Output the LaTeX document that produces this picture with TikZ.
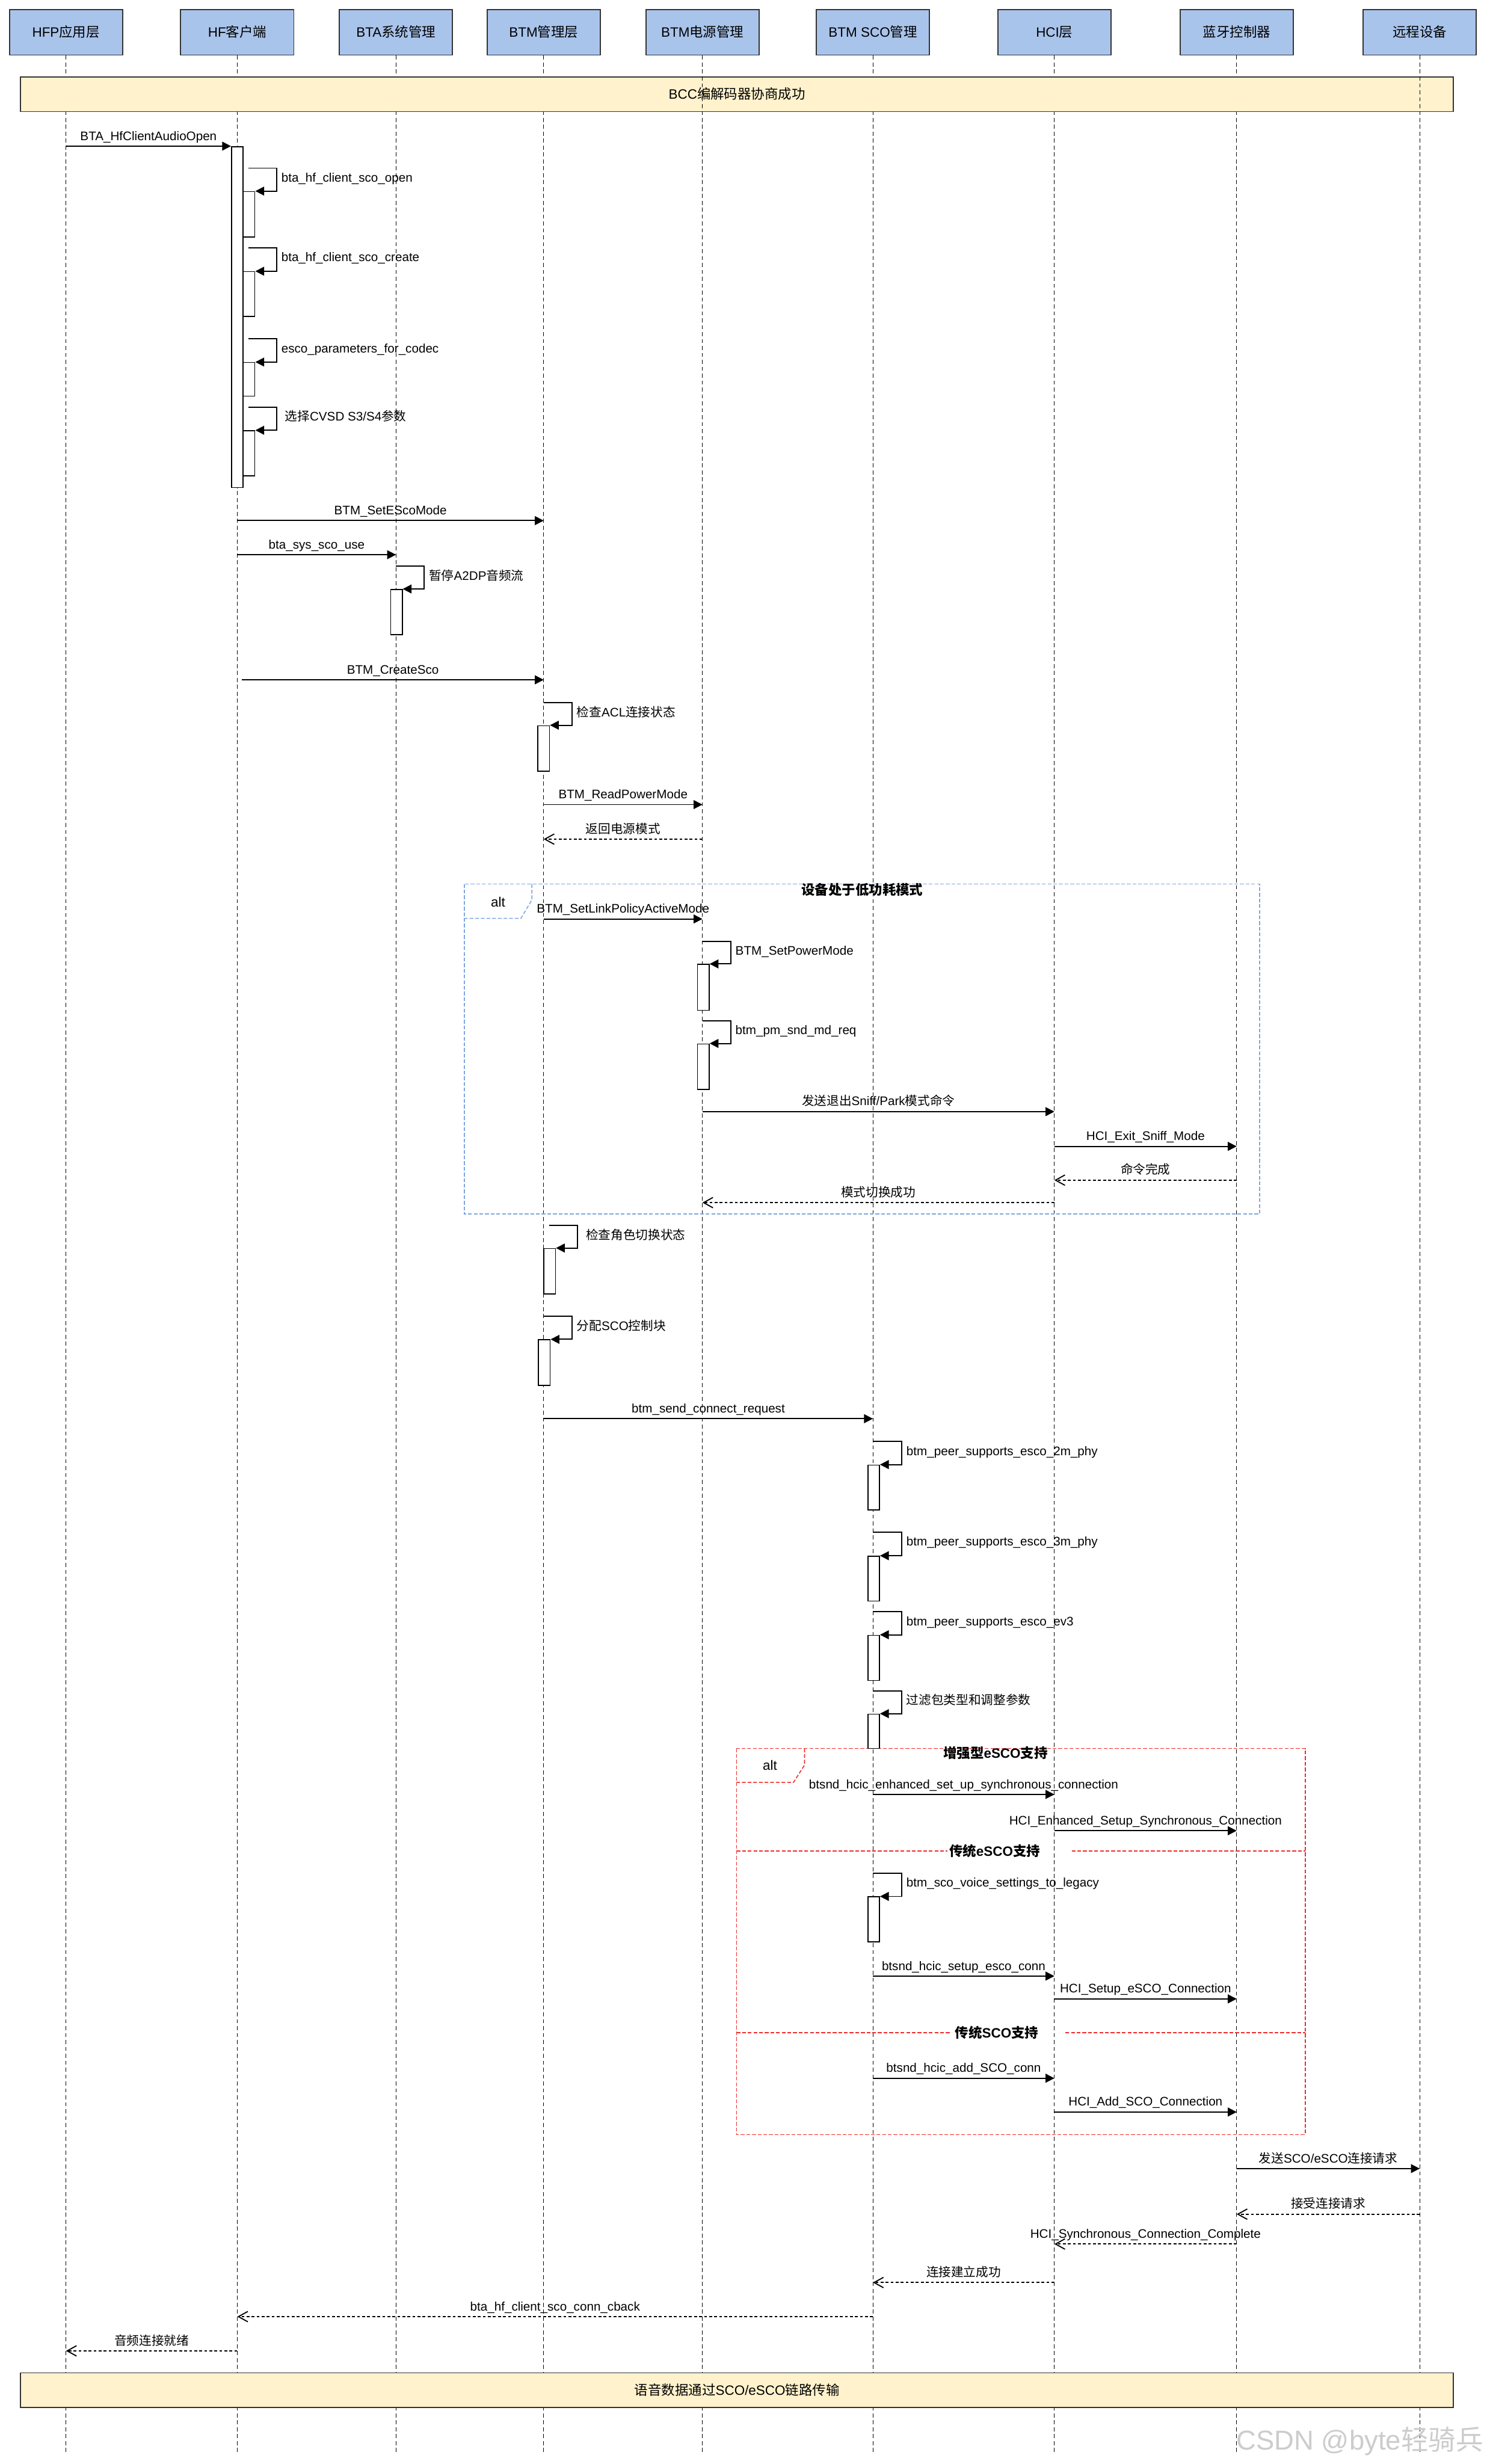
\documentclass[tikz,border=0pt]{standalone}
\usepackage{fontspec}
\setmainfont{Liberation Sans}
\newfontfamily\zhfont{Noto Sans CJK SC}
\newcommand\zh[1]{{\zhfont #1}}
\usepackage{tikz}
\usetikzlibrary{arrows.meta,calc}
\definecolor{hdrblue}{HTML}{A9C4EB}
\definecolor{notebg}{HTML}{FFF2CC}
\definecolor{altblue}{HTML}{7EA6E0}
\definecolor{altred}{HTML}{F02A2A}
\tikzset{
  hdr/.style={draw=black!80, fill=hdrblue, line width=0.7pt, minimum width=72pt,
              minimum height=29pt, inner sep=0pt, text height=7pt, text depth=1pt,
              font=\fontsize{8.6}{10}\selectfont},
  note/.style={draw=black!80, fill=notebg, line width=0.7pt, minimum width=912pt,
               minimum height=22pt, inner sep=0pt, text height=7pt, text depth=1pt,
               font=\fontsize{8.6}{10}\selectfont},
  lifeline/.style={line width=0.45pt, dash pattern=on 2.6pt off 1.8pt},
  actbox/.style={draw, fill=white, line width=0.6pt, minimum width=7.4pt,
                 inner sep=0pt, anchor=north west},
  call/.style={line width=0.75pt, -{Triangle[length=5.6pt,width=5.6pt]}},
  ret/.style={line width=0.7pt, dash pattern=on 1.8pt off 1.4pt,
              -{Straight Barb[length=6pt,width=6.6pt]}},
  msglbl/.style={anchor=base, yshift=3.8pt, inner sep=0pt,
                 font=\fontsize{7.9}{9}\selectfont},
  selflbl/.style={anchor=base west, xshift=2.7pt, yshift=-8.8pt, inner sep=0pt,
                  font=\fontsize{7.9}{9}\selectfont},
  altframe/.style={line width=0.6pt, dash pattern=on 2.4pt off 1.2pt},
  frametitle/.style={anchor=base, inner sep=0pt, font=\bfseries\fontsize{8.6}{10}\selectfont},
  alttag/.style={anchor=base, inner sep=0pt, font=\fontsize{8.6}{10}\selectfont},
}

\begin{document}
\begin{tikzpicture}[x=1pt, y=-1pt]
  \useasboundingbox (0,0) rectangle (946,1568);

  % participants and lifelines
  \node[hdr] (hfp) at (42,20.5)    {HFP\zh{应用层}};
  \node[hdr] (hf)  at (151,20.5)   {HF\zh{客户端}};
  \node[hdr] (bta) at (252,20.5)   {BTA\zh{系统管理}};
  \node[hdr] (btm) at (346,20.5)   {BTM\zh{管理层}};
  \node[hdr] (pwr) at (447,20.5)   {BTM\zh{电源管理}};
  \node[hdr] (sco) at (555.5,20.5) {BTM SCO\zh{管理}};
  \node[hdr] (hci) at (671,20.5)   {HCI\zh{层}};
  \node[hdr] (ctl) at (787,20.5)   {\zh{蓝牙控制器}};
  \node[hdr] (rem) at (903.5,20.5) {\zh{远程设备}};
  \foreach \p in {hfp,hf,bta,btm,pwr,sco,hci,ctl,rem}
    \draw[lifeline] (\p.south) -- (\p |- 0,1562);

  % notes across all lifelines
  \node[note] (bcc)   at (469,60)   {BCC\zh{编解码器协商成功}};
  \node[note] (voice) at (469,1521) {\zh{语音数据通过}SCO/eSCO\zh{链路传输}};
  \draw[lifeline] (pwr |- bcc.north) -- (pwr |- bcc.south);
  \draw[lifeline] (rem |- bcc.north) -- (rem |- bcc.south);

  % alt: low power mode
  \draw[altframe, altblue] (295.5,562.6) rectangle (801.5,772.6);
  \draw[altframe, altblue] (338.5,562.6) -- (338.5,572.6) -- (331.5,584.4) -- (295.5,584.4);
  \node[alttag] (lpalt) at (317,576.9) {alt};
  \node[frametitle] (lptitle) at (548.7,569.3) {\zh{设备处于低功耗模式}};

  % alt: eSCO / SCO variants
  \draw[altframe, altred] (468.7,1112.7) rectangle (830.6,1358.4);
  \draw[altframe, altred] (512,1112.7) -- (512,1123.2) -- (505,1134.2) -- (468.7,1134.2);
  \draw[altframe, altred] (468.7,1177.8) -- (603,1177.8) (682,1177.8) -- (830.6,1177.8);
  \draw[altframe, altred] (468.7,1293.5) -- (605.5,1293.5) (678,1293.5) -- (830.6,1293.5);
  \node[alttag] (scoalt) at (490,1126.4) {alt};
  \node[frametitle] (enhtitle) at (633.5,1118.7) {\zh{增强型}eSCO\zh{支持}};
  \node[frametitle] (esctitle) at (633,1181.3)   {\zh{传统}eSCO\zh{支持}};
  \node[frametitle] (scotitle) at (634.3,1296.8) {\zh{传统}SCO\zh{支持}};

  % activations
  \node[actbox, minimum height=217pt]  (a0)  at (147,93) {};
  \node[actbox, minimum height=29pt]   (a1)  at (154.5,121.6) {};
  \node[actbox, minimum height=28.4pt] (a2)  at (154.5,172.6) {};
  \node[actbox, minimum height=21.3pt] (a3)  at (154.5,230.4) {};
  \node[actbox, minimum height=28.6pt] (a4)  at (154.5,273.8) {};
  \node[actbox, minimum height=28.8pt] (a5)  at (248.3,374.8) {};
  \node[actbox, minimum height=29pt]   (a6)  at (342,461.5) {};
  \node[actbox, minimum height=29.3pt] (a7)  at (443.6,613.4) {};
  \node[actbox, minimum height=29pt]   (a8)  at (443.6,664) {};
  \node[actbox, minimum height=29pt]   (a9)  at (345.8,794.2) {};
  \node[actbox, minimum height=29pt]   (a10) at (342.4,852.3) {};
  \node[actbox, minimum height=28.6pt] (a11) at (552,932) {};
  \node[actbox, minimum height=28.5pt] (a12) at (552,990) {};
  \node[actbox, minimum height=28.7pt] (a13) at (552,1040.3) {};
  \node[actbox, minimum height=21.8pt] (a14) at (552,1090.5) {};
  \node[actbox, minimum height=28.7pt] (a15) at (552,1206.8) {};

  % HF client opens the audio link
  \draw[call] (hfp |- 0,93) -- (a0.north west) node[msglbl, midway] {BTA\_HfClientAudioOpen};
  \draw[call] ($(hf |- 0,107)+(7,0)$) -- ++(18,0) node[selflbl] {bta\_hf\_client\_sco\_open} |- (a1.north east);
  \draw[call] ($(hf |- 0,157.7)+(7,0)$) -- ++(18,0) node[selflbl] {bta\_hf\_client\_sco\_create} |- (a2.north east);
  \draw[call] ($(hf |- 0,215.6)+(7,0)$) -- ++(18,0) node[selflbl] {esco\_parameters\_for\_codec} |- (a3.north east);
  \draw[call] ($(hf |- 0,259)+(7,0)$) -- ++(18,0) node[selflbl, xshift=2.3pt] {\zh{选择}CVSD S3/S4\zh{参数}} |- (a4.north east);
  \draw[call] (hf |- 0,331.3) -- (btm |- 0,331.3) node[msglbl, midway] {BTM\_SetEScoMode};
  \draw[call] (hf |- 0,353) -- (bta |- 0,353) node[msglbl, midway] {bta\_sys\_sco\_use};
  \draw[call] (bta |- 0,360.3) -- ++(18,0) node[selflbl] {\zh{暂停}A2DP\zh{音频流}} |- (a5.north east);
  \draw[call] ($(hf |- 0,432.6)+(3,0)$) -- (btm |- 0,432.6) node[msglbl, midway] {BTM\_CreateSco};
  \draw[call] (btm |- 0,447.2) -- ++(18,0) node[selflbl] {\zh{检查}ACL\zh{连接状态}} |- (a6.north east);
  \draw[call] (btm |- 0,512) -- (pwr |- 0,512) node[msglbl, midway] {BTM\_ReadPowerMode};
  \draw[ret] (pwr |- 0,534) -- (btm |- 0,534) node[msglbl, midway] {\zh{返回电源模式}};

  % leave sniff / park
  \draw[call] (btm |- 0,584.8) -- (pwr |- 0,584.8) node[msglbl, midway] {BTM\_SetLinkPolicyActiveMode};
  \draw[call] (pwr |- 0,599) -- ++(18,0) node[selflbl] {BTM\_SetPowerMode} |- (a7.north east);
  \draw[call] (pwr |- 0,649.6) -- ++(18,0) node[selflbl] {btm\_pm\_snd\_md\_req} |- (a8.north east);
  \draw[call] (pwr |- 0,707.4) -- (hci |- 0,707.4) node[msglbl, midway] {\zh{发送退出}Sniff/Park\zh{模式命令}};
  \draw[call] (hci |- 0,729.5) -- (ctl |- 0,729.5) node[msglbl, midway] {HCI\_Exit\_Sniff\_Mode};
  \draw[ret] (ctl |- 0,751) -- (hci |- 0,751) node[msglbl, midway] {\zh{命令完成}};
  \draw[ret] (hci |- 0,765.3) -- (pwr |- 0,765.3) node[msglbl, midway] {\zh{模式切换成功}};

  % SCO manager
  \draw[call] ($(btm |- 0,779.8)+(3.6,0)$) -- ++(18,0) node[selflbl, xshift=2.3pt] {\zh{检查角色切换状态}} |- (a9.north east);
  \draw[call] (btm |- 0,837.7) -- ++(18,0) node[selflbl] {\zh{分配}SCO\zh{控制块}} |- (a10.north east);
  \draw[call] (btm |- 0,902.8) -- (sco |- 0,902.8) node[msglbl, midway] {btm\_send\_connect\_request};
  \draw[call] (sco |- 0,917.3) -- ++(18.3,0) node[selflbl] {btm\_peer\_supports\_esco\_2m\_phy} |- (a11.north east);
  \draw[call] (sco |- 0,975) -- ++(18.3,0) node[selflbl] {btm\_peer\_supports\_esco\_3m\_phy} |- (a12.north east);
  \draw[call] (sco |- 0,1025.7) -- ++(18.3,0) node[selflbl] {btm\_peer\_supports\_esco\_ev3} |- (a13.north east);
  \draw[call] (sco |- 0,1076) -- ++(18.3,0) node[selflbl] {\zh{过滤包类型和调整参数}} |- (a14.north east);

  \draw[call] (sco |- 0,1141.9) -- (hci |- 0,1141.9) node[msglbl, midway] {btsnd\_hcic\_enhanced\_set\_up\_synchronous\_connection};
  \draw[call] (hci |- 0,1165) -- (ctl |- 0,1165) node[msglbl, midway] {HCI\_Enhanced\_Setup\_Synchronous\_Connection};
  \draw[call] (sco |- 0,1192) -- ++(18.3,0) node[selflbl] {btm\_sco\_voice\_settings\_to\_legacy} |- (a15.north east);
  \draw[call] (sco |- 0,1257.5) -- (hci |- 0,1257.5) node[msglbl, midway] {btsnd\_hcic\_setup\_esco\_conn};
  \draw[call] (hci |- 0,1272) -- (ctl |- 0,1272) node[msglbl, midway] {HCI\_Setup\_eSCO\_Connection};
  \draw[call] (sco |- 0,1322.5) -- (hci |- 0,1322.5) node[msglbl, midway] {btsnd\_hcic\_add\_SCO\_conn};
  \draw[call] (hci |- 0,1344) -- (ctl |- 0,1344) node[msglbl, midway] {HCI\_Add\_SCO\_Connection};

  % link setup with the remote side and callbacks
  \draw[call] (ctl |- 0,1380) -- (rem |- 0,1380) node[msglbl, midway] {\zh{发送}SCO/eSCO\zh{连接请求}};
  \draw[ret] (rem |- 0,1409) -- (ctl |- 0,1409) node[msglbl, midway] {\zh{接受连接请求}};
  \draw[ret] (ctl |- 0,1428) -- (hci |- 0,1428) node[msglbl, midway] {HCI\_Synchronous\_Connection\_Complete};
  \draw[ret] (hci |- 0,1452.5) -- (sco |- 0,1452.5) node[msglbl, midway] {\zh{连接建立成功}};
  \draw[ret] (sco |- 0,1474.2) -- (hf |- 0,1474.2) node[msglbl, midway] {bta\_hf\_client\_sco\_conn\_cback};
  \draw[ret] (hf |- 0,1496) -- (hfp |- 0,1496) node[msglbl, midway] {\zh{音频连接就绪}};

  \node[anchor=base east, inner sep=0pt, text=black!20, font=\fontsize{17.4}{20}\selectfont]
    (mark) at (944,1559) {CSDN @byte\zh{轻骑兵}};
\end{tikzpicture}
\end{document}
